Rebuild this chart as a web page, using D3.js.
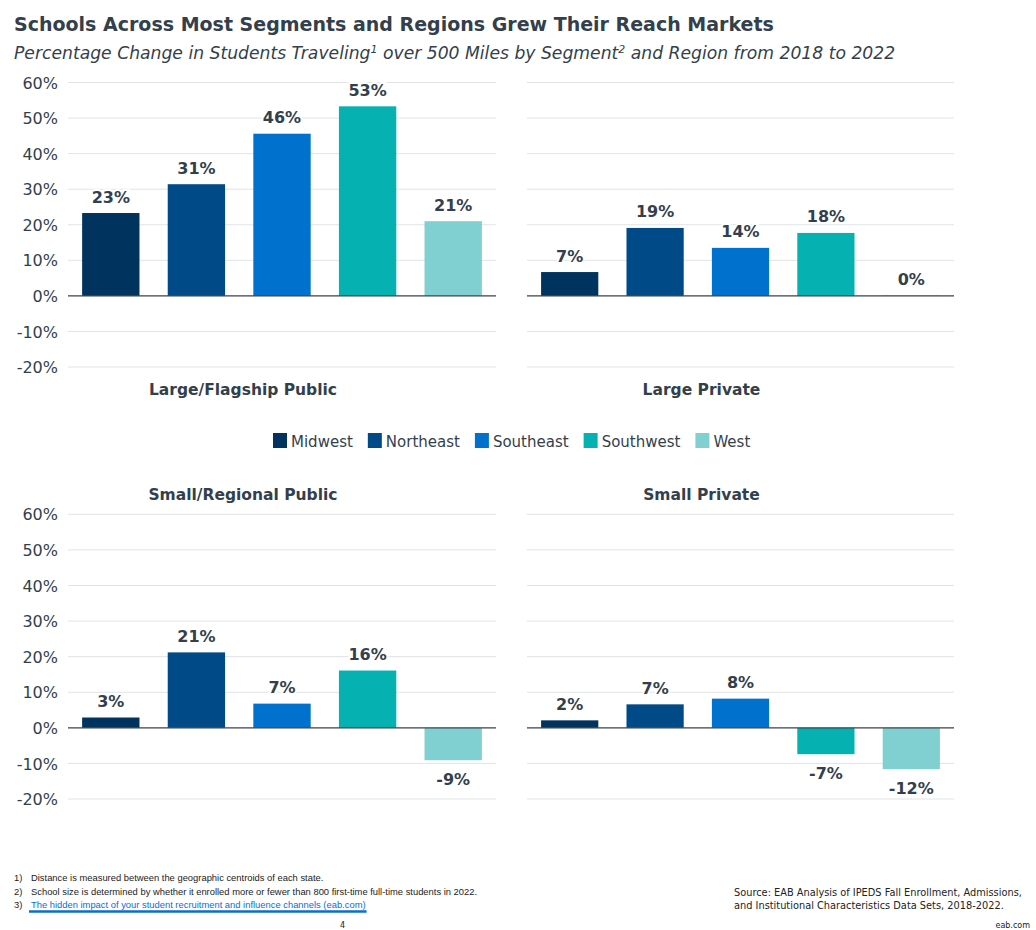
<!DOCTYPE html>
<html>
<head>
<meta charset="utf-8">
<script src="https://cdn.jsdelivr.net/npm/d3@7"></script>
<style>
  body { margin: 0; background: #fff; }
  svg { display: block; }
  text { font-family: "DejaVu Sans", Verdana, sans-serif; }
  text.note { font-family: "Liberation Sans", Arial, sans-serif; }
</style>
</head>
<body>
<svg id="chart" width="1036" height="930"></svg>
<script>
const regions = ["Midwest", "Northeast", "Southeast", "Southwest", "West"];
const regionColors = ["#00345f", "#004b87", "#0072ce", "#05b2b1", "#80cfd1"];
const segments = ["Large/Flagship Public", "Large Private", "Small/Regional Public", "Small Private"];
// values; labels show rounded values
const largeFlagshipPublic = [23.3, 31.4, 45.6, 53.3, 21.0];
const largePrivate = [6.7, 19.1, 13.5, 17.7, 0.1];
const smallRegionalPublic = [2.9, 21.2, 6.8, 16.1, -9.1];
const smallPrivate = [2.1, 6.6, 8.2, -7.4, -11.6];
const yTicks = [60, 50, 40, 30, 20, 10, 0, -10, -20];
const footnotes = [
  "Distance is measured between the geographic centroids of each state.",
  "School size is determined by whether it enrolled more or fewer than 800 first-time full-time students in 2022.",
  "The hidden impact of your student recruitment and influence channels (eab.com)"
];
const sourceLines = [
  "Source: EAB Analysis of IPEDS Fall Enrollment, Admissions,",
  "and Institutional Characteristics Data Sets, 2018-2022."
];

const svg = d3.select("#chart");
const textColor = "#333f4b";

svg.append("text").attr("x", 14).attr("y", 31)
  .attr("font-size", 19).attr("font-weight", "bold").attr("fill", textColor)
  .text("Schools Across Most Segments and Regions Grew Their Reach Markets");
const sub = svg.append("text").attr("x", 14).attr("y", 59)
  .attr("font-size", 17.2).attr("font-style", "italic").attr("fill", textColor);
sub.append("tspan").text("Percentage Change in Students Traveling");
sub.append("tspan").attr("font-size", 11).attr("dy", -6).text("1");
sub.append("tspan").attr("dy", 6).text(" over 500 Miles by Segment");
sub.append("tspan").attr("font-size", 11).attr("dy", -6).text("2");
sub.append("tspan").attr("dy", 6).text(" and Region from 2018 to 2022");

const panels = [
  { name: segments[0], values: largeFlagshipPublic, x0: 68, x1: 496, yTop: 82.5, yBot: 367, axis: true, titleY: 395 },
  { name: segments[1], values: largePrivate, x0: 527, x1: 954, yTop: 82.5, yBot: 367, axis: false, titleY: 395 },
  { name: segments[2], values: smallRegionalPublic, x0: 68, x1: 496, yTop: 514.3, yBot: 799, axis: true, titleY: 500 },
  { name: segments[3], values: smallPrivate, x0: 527, x1: 954, yTop: 514.3, yBot: 799, axis: false, titleY: 500 }
];

panels.forEach(p => {
  const g = svg.append("g");
  const x = d3.scaleBand().domain(regions).range([p.x0, p.x1]).paddingInner(0.33).paddingOuter(0.165);
  const y = d3.scaleLinear().domain([-20, 60]).range([p.yBot, p.yTop]);

  g.selectAll(".grid").data(yTicks.filter(t => t !== 0)).join("line")
    .attr("x1", p.x0).attr("x2", p.x1)
    .attr("y1", d => y(d)).attr("y2", d => y(d))
    .attr("stroke", "#dfe4e7").attr("stroke-width", 1);

  if (p.axis) {
    const ax = d3.axisLeft(y).tickValues(yTicks).tickSize(0).tickPadding(10).tickFormat(d => d + "%");
    const axg = g.append("g").attr("transform", `translate(${p.x0},0)`).call(ax);
    axg.select(".domain").remove();
    axg.selectAll("text").attr("font-size", 16).attr("fill", textColor).attr("dy", "0.35em");
  }

  g.selectAll(".bar").data(p.values).join("rect")
    .attr("x", (d, i) => x(regions[i]))
    .attr("width", x.bandwidth())
    .attr("y", d => Math.min(y(d), y(0)))
    .attr("height", d => Math.abs(y(d) - y(0)))
    .attr("fill", (d, i) => regionColors[i]);

  g.append("line").attr("x1", p.x0).attr("x2", p.x1)
    .attr("y1", y(0)).attr("y2", y(0))
    .attr("stroke", "#3a434c").attr("stroke-width", 1.3);

  g.selectAll(".lbl").data(p.values).join("text")
    .attr("x", (d, i) => x(regions[i]) + x.bandwidth() / 2)
    .attr("y", d => d >= 0 ? y(d) - 10.5 : y(d) + 25)
    .attr("text-anchor", "middle").attr("font-size", 16).attr("font-weight", "bold")
    .attr("fill", textColor)
    .attr("stroke", "#fff").attr("stroke-width", 4).attr("paint-order", "stroke")
    .text(d => Math.round(d) + "%");

  g.append("text").attr("x", (p.x0 + p.x1) / 2 - 39).attr("y", p.titleY)
    .attr("text-anchor", "middle").attr("font-size", 15.5).attr("font-weight", "bold")
    .attr("fill", textColor).text(p.name);
});

const legend = svg.append("g");
let lx = 273;
regions.forEach((r, i) => {
  legend.append("rect").attr("x", lx).attr("y", 433).attr("width", 14).attr("height", 15)
    .attr("fill", regionColors[i]);
  const t = legend.append("text").attr("x", lx + 18).attr("y", 447)
    .attr("font-size", 15).attr("fill", textColor).text(r);
  lx += 18 + t.node().getComputedTextLength() + 15;
});

footnotes.forEach((f, i) => {
  const yy = 881 + i * 13.5;
  svg.append("text").attr("class", "note").attr("x", 14).attr("y", yy).attr("font-size", 9.4)
    .attr("fill", "#222").text((i + 1) + ")");
  const t = svg.append("text").attr("class", "note").attr("x", 31).attr("y", yy).attr("font-size", 9.4)
    .attr("fill", i === 2 ? "#0a6ed1" : "#222").text(f);
  if (i === 2) {
    const w = t.node().getComputedTextLength();
    svg.append("line").attr("x1", 29).attr("x2", 31 + w + 1).attr("y1", yy + 3.5).attr("y2", yy + 3.5)
      .attr("stroke", "#0a6ed1").attr("stroke-width", 2.5);
  }
});
sourceLines.forEach((s, i) => {
  svg.append("text").attr("x", 734).attr("y", 896 + i * 13).attr("font-size", 9.8)
    .attr("fill", "#222").text(s);
});
svg.append("text").attr("x", 340).attr("y", 928).attr("font-size", 8).attr("fill", "#222").text("4");
svg.append("text").attr("x", 1030).attr("y", 928).attr("text-anchor", "end").attr("font-size", 8).attr("fill", "#222").text("eab.com");
</script>
</body>
</html>
